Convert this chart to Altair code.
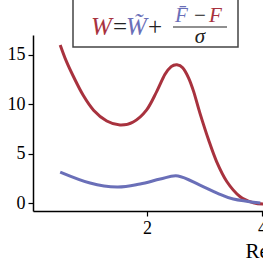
import altair as alt
import pandas as pd

# Red curve (W)
red_x = [0.49, 0.60, 0.72, 0.89, 1.07, 1.30, 1.53, 1.76, 1.99, 2.17, 2.31, 2.42, 2.52, 2.62, 2.72, 2.81, 2.92, 3.07, 3.21, 3.39, 3.62, 3.85, 4.02]
red_y = [16.0, 14.3, 12.8, 10.9, 9.4, 8.3, 7.9, 8.2, 9.4, 11.3, 13.0, 13.8, 14.0, 13.7, 12.7, 11.3, 9.1, 6.4, 4.2, 2.16, 0.64, 0.03, -0.1]
# Blue curve (W tilde)
blue_x = [0.49, 1.01, 1.48, 1.88, 2.23, 2.54, 2.92, 3.22, 3.50, 3.97]
blue_y = [3.14, 2.03, 1.62, 1.93, 2.43, 2.74, 1.82, 1.01, 0.41, 0.0]

x_ticks = [2, 4]
y_ticks = [0, 5, 10, 15]

RED = "#A8323E"
BLUE = "#6A6FB8"
FONT = "Liberation Serif"

df = pd.concat([
    pd.DataFrame({"x": red_x, "y": red_y, "s": "W"}),
    pd.DataFrame({"x": blue_x, "y": blue_y, "s": "Wt"}),
])

xs = alt.Scale(domain=[0.017, 4.017], nice=False, zero=False)
ys = alt.Scale(domain=[-0.8, 17], nice=False, zero=False)

lines = alt.Chart(df).mark_line(strokeWidth=3, interpolate="cardinal", clip=True).encode(
    x=alt.X("x:Q", scale=xs, axis=alt.Axis(values=x_ticks, title="Re ω", labelFlush=False,
                                           titleX=212, titleY=46, titleAlign="left",
                                           titleBaseline="alphabetic", titleAnchor="start")),
    y=alt.Y("y:Q", scale=ys, axis=alt.Axis(values=y_ticks, title=None)),
    color=alt.Color("s:N", scale=alt.Scale(domain=["W", "Wt"], range=[RED, BLUE]), legend=None),
    detail="s:N",
)

one = pd.DataFrame({"a": [0]})
box = alt.Chart(one).mark_rect(fill="white", stroke="#444444", strokeWidth=1.5).encode(
    x=alt.value(40), x2=alt.value(205), y=alt.value(-36), y2=alt.value(12)
)

def txt(t, x, y, color, size, italic=True, align="left"):
    return alt.Chart(one).mark_text(
        text=t, font=FONT, fontSize=size, fontStyle="italic" if italic else "normal",
        color=color, align=align, baseline="alphabetic"
    ).encode(x=alt.value(x), y=alt.value(y))

bar = alt.Chart(one).mark_rule(color="#222222", strokeWidth=1.2).encode(
    x=alt.value(140), x2=alt.value(194), y=alt.value(-8)
)

legend = [
    box,
    txt("W", 58, 0, RED, 25),
    txt("=", 80, 0, "#222222", 25, italic=False),
    txt("W\u0303", 93, 0, BLUE, 25),
    txt("+", 115, 0, "#222222", 25, italic=False),
    txt("F\u0304", 142, -13, BLUE, 21),
    txt("\u2212", 161, -13, "#222222", 21, italic=False),
    txt("F", 176, -13, RED, 21),
    bar,
    txt("σ", 167, 8, "#222222", 21, align="center"),
]

chart = alt.layer(lines, *legend).properties(
    width=230, height=176,
    autosize=alt.AutoSizeParams(type="none"),
    padding={"left": 33, "top": 35, "right": 0, "bottom": 52},
).configure_view(stroke=None).configure_axis(
    grid=False, domainColor="black", domainWidth=1.5, tickColor="black", tickWidth=1.2,
    tickSize=5, labelFont=FONT, labelFontSize=18, labelColor="black", labelPadding=3,
    titleFont=FONT, titleFontSize=21, titleFontWeight="normal", titleColor="black",
)

chart.save("out.html", embed_options={"renderer": "svg", "actions": False})
